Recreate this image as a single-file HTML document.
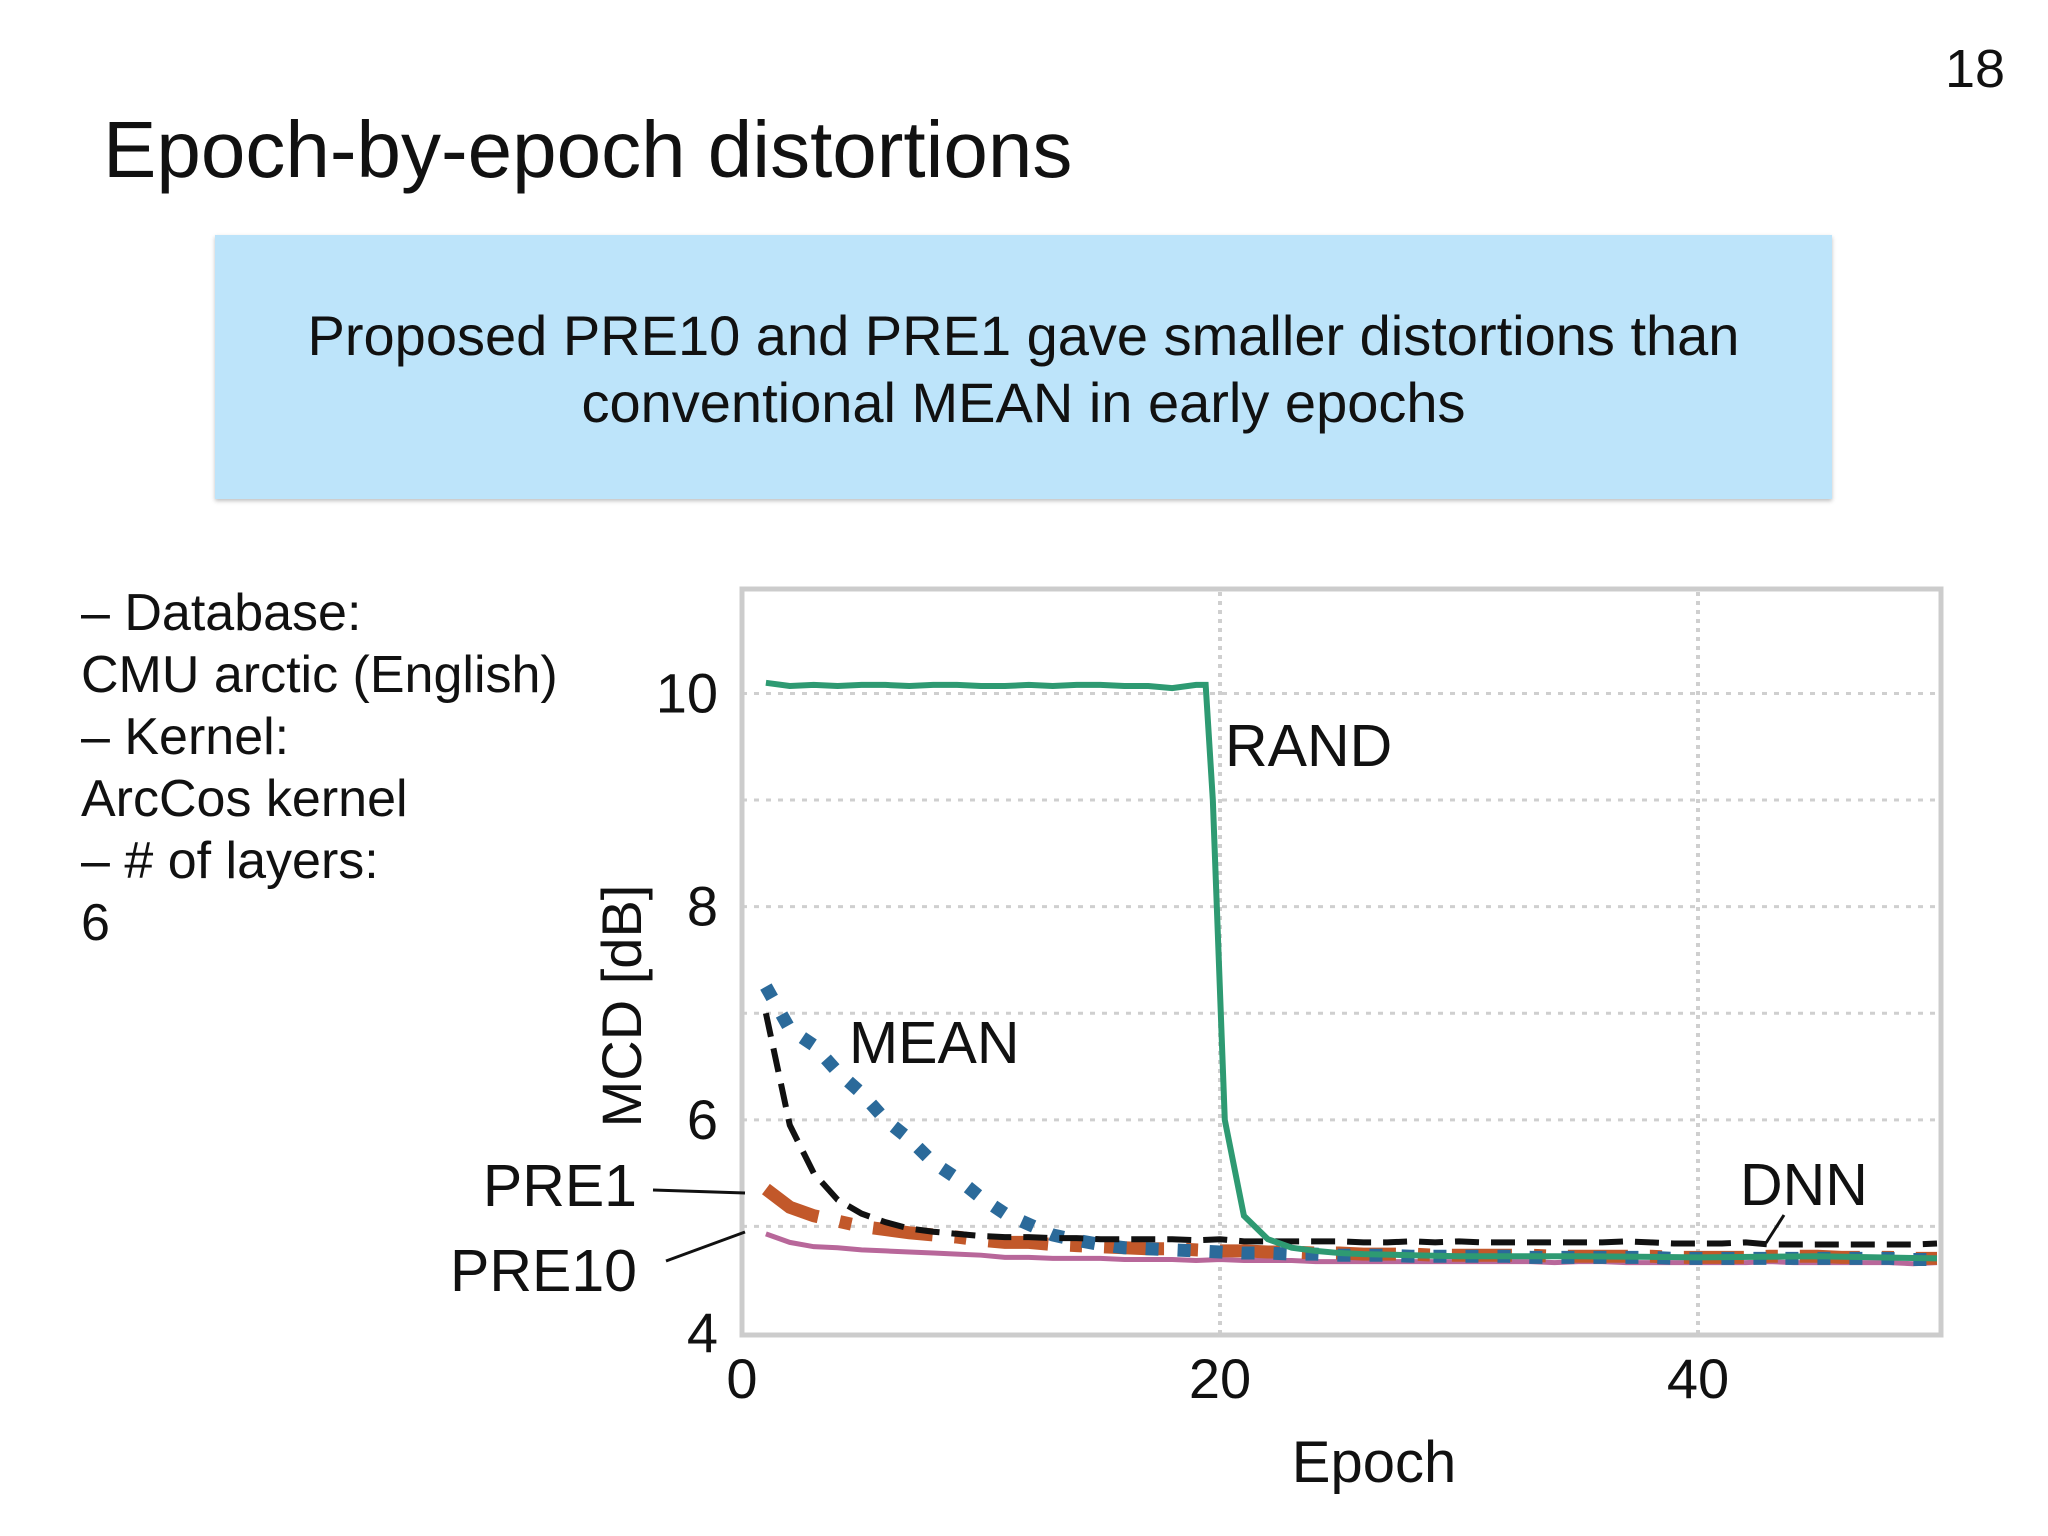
<!DOCTYPE html>
<html><head><meta charset="utf-8">
<style>
body{margin:0;width:2048px;height:1536px;background:#fff;font-family:"Liberation Sans",sans-serif;overflow:hidden;position:relative}
.abs{position:absolute;white-space:nowrap}
</style></head><body>
<div class="abs" style="left:1945px;top:38px;font-size:54px;color:#111">18</div>
<div class="abs" style="left:103px;top:104px;font-size:80px;color:#111">Epoch-by-epoch distortions</div>
<div class="abs" style="left:215px;top:235px;width:1617px;height:264px;background:#bde4fa;box-shadow:0 2px 4px rgba(0,0,0,0.25);text-align:center;font-size:56px;line-height:67px;color:#111;white-space:normal">
<div style="padding-top:67px">Proposed PRE10 and PRE1 gave smaller distortions than<br>conventional MEAN in early epochs</div></div>
<div class="abs" style="left:81px;top:582px;font-size:52px;line-height:62px;color:#111">– Database:<br>CMU arctic (English)<br>– Kernel:<br>ArcCos kernel<br>– # of layers:<br>6</div>
<svg class="abs" style="left:0;top:0" width="2048" height="1536" font-family="Liberation Sans, sans-serif">
<g id="g"></g>
</svg>
<script>
const epochs=[];for(let i=1;i<=50;i++)epochs.push(i);
const randEpochs=[1,2,3,4,5,6,7,8,9,10,11,12,13,14,15,16,17,18,19,19.4,19.7,20.2,21,22,23,24,25,26,28,30,35,40,45,50];
const randVals=[10.1,10.07,10.08,10.07,10.08,10.08,10.07,10.08,10.08,10.07,10.07,10.08,10.07,10.08,10.08,10.07,10.07,10.05,10.08,10.08,9.0,6.0,5.1,4.88,4.8,4.77,4.75,4.74,4.73,4.72,4.72,4.71,4.72,4.7];
const meanVals=[7.25,6.85,6.7,6.45,6.25,6.0,5.82,5.6,5.45,5.27,5.12,5.02,4.92,4.87,4.83,4.8,4.79,4.78,4.77,4.76,4.75,4.75,4.74,4.74,4.73,4.73,4.73,4.72,4.72,4.72,4.72,4.72,4.71,4.71,4.71,4.71,4.71,4.71,4.7,4.7,4.7,4.7,4.7,4.7,4.7,4.7,4.7,4.7,4.69,4.69];
const dnnVals=[7.0,5.95,5.5,5.25,5.12,5.04,4.98,4.95,4.93,4.91,4.9,4.9,4.89,4.89,4.88,4.88,4.88,4.88,4.87,4.88,4.86,4.86,4.86,4.86,4.86,4.85,4.85,4.86,4.85,4.86,4.85,4.85,4.85,4.85,4.85,4.85,4.86,4.85,4.84,4.84,4.84,4.85,4.83,4.83,4.83,4.83,4.83,4.83,4.83,4.84];
const pre1Vals=[5.35,5.18,5.1,5.05,5.0,4.97,4.94,4.92,4.9,4.87,4.85,4.85,4.83,4.82,4.81,4.8,4.79,4.79,4.78,4.77,4.77,4.76,4.76,4.75,4.75,4.74,4.74,4.74,4.73,4.73,4.73,4.73,4.73,4.72,4.72,4.72,4.72,4.72,4.71,4.71,4.71,4.71,4.72,4.72,4.72,4.71,4.71,4.71,4.7,4.7];
const pre10Vals=[4.93,4.85,4.81,4.8,4.78,4.77,4.76,4.75,4.74,4.73,4.71,4.71,4.7,4.7,4.7,4.69,4.69,4.69,4.68,4.69,4.68,4.68,4.68,4.67,4.67,4.67,4.67,4.67,4.67,4.67,4.67,4.67,4.67,4.66,4.67,4.67,4.66,4.66,4.66,4.66,4.66,4.66,4.67,4.66,4.66,4.66,4.66,4.66,4.65,4.66];
const yTicks=[4,6,8,10];
const xTicks=[0,20,40];
const X0=742,X1=1937,Y0=1333,Y1=589,XMAX=50,YMIN=4,YMAX=10.98;
const sx=v=>X0+(X1-X0)*v/XMAX, sy=v=>Y0-(Y0-Y1)*(v-YMIN)/(YMAX-YMIN);
const NS="http://www.w3.org/2000/svg",g=document.getElementById('g');
function mk(t,a,txt){const e=document.createElementNS(NS,t);for(const k in a)e.setAttribute(k,a[k]);if(txt!==undefined)e.textContent=txt;g.appendChild(e);return e;}
for(let v=5;v<=10;v++){const l=mk('line',{x1:X0,x2:1937,y1:sy(v),y2:sy(v),stroke:'#cfcfcf','stroke-width':3,'stroke-dasharray':'5 7'});

}
[20,40].forEach(v=>{const l=mk('line',{x1:sx(v),x2:sx(v),y1:592,y2:1333,stroke:'#cfcfcf','stroke-width':4,'stroke-dasharray':'4 5'});

});
const box=mk('rect',{x:742,y:589,width:1199,height:746,fill:'none',stroke:'#cccccc','stroke-width':5});


function series(xs,ys,attrs,name){const p=mk('polyline',Object.assign({points:xs.map((x,i)=>sx(x)+','+sy(ys[i])).join(' '),fill:'none'},attrs));

}
series(epochs,pre10Vals,{stroke:'#b8679a','stroke-width':5},'pre10-line');
series(epochs,pre1Vals,{stroke:'#c2582a','stroke-width':13,'stroke-dasharray':'60 22 12 22'},'pre1-line');
series(epochs,meanVals,{stroke:'#2b6a9a','stroke-width':13,'stroke-dasharray':'13 19'},'mean-line');
series(epochs,dnnVals,{stroke:'#111','stroke-width':6,'stroke-dasharray':'24 12'},'dnn-line');
series(randEpochs,randVals,{stroke:'#2e9a72','stroke-width':6},'rand-line');
yTicks.forEach(v=>{const t=mk('text',{x:718,y:sy(v)+19,'text-anchor':'end','font-size':56,fill:'#111'},v);

});
xTicks.forEach(v=>{const t=mk('text',{x:sx(v),y:1398,'text-anchor':'middle','font-size':56,fill:'#111'},v);

});
let t=mk('text',{x:1374,y:1482,'text-anchor':'middle','font-size':58,fill:'#111'},'Epoch');


t=mk('text',{x:0,y:0,'text-anchor':'middle','font-size':56,fill:'#111',transform:'translate(641,1006) rotate(-90)'},'MCD [dB]');


[['RAND',1225,766,'start','rand-label'],['MEAN',849,1063,'start','mean-label'],['DNN',1740,1205,'start','dnn-label'],['PRE1',637,1206,'end','pre1-label'],['PRE10',637,1291,'end','pre10-label']].forEach(a=>{
const e=mk('text',{x:a[1],y:a[2],'text-anchor':a[3],'font-size':59,fill:'#111'},a[0]);

});
[[653,1190,745,1193,'pre1-pointer'],[666,1261,745,1232,'pre10-pointer'],[1784,1215,1766,1243,'dnn-pointer']].forEach(a=>{
const e=mk('line',{x1:a[0],y1:a[1],x2:a[2],y2:a[3],stroke:'#111','stroke-width':3});

});
</script>
</body></html>
